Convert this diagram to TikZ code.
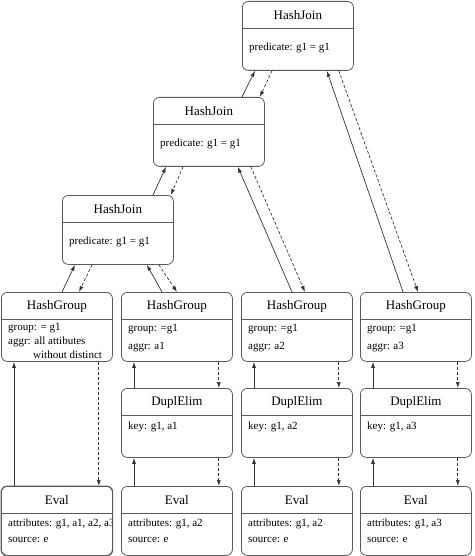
\documentclass[tikz,border=0pt]{standalone}
\usepackage{fontspec}
\setmainfont{Liberation Serif}
\usetikzlibrary{calc,arrows.meta}
\newcommand\umlbox[4]{%
  \node[box] (#1) at (#2,#3) {};
  \draw[divider] ($(#1.north west)+(0,27)$) -- ($(#1.north east)+(0,27)$);
  \node[ttl] (#1-t) at ($(#1.north)+(0,14)$) {#4};
}
\newcommand\bodytxt[4]{%
  \node[txt] (#1) at ($(#2.north west)+(7,#3)$) {#4};
}
\begin{document}
\begin{tikzpicture}[x=1pt,y=-1pt,
  box/.style={draw=black!65, line width=0.8pt, rounded corners=6pt, minimum width=111pt, minimum height=69pt, anchor=north west, inner sep=0pt, fill=white},
  divider/.style={draw=black!65, line width=0.8pt},
  ttl/.style={font=\fontsize{13}{15}\selectfont, anchor=center, inner sep=0pt},
  txt/.style={font=\fontsize{11}{13}\selectfont, anchor=west, inner sep=0pt},
  upar/.style={draw=black!80, line width=0.7pt, -{Latex[length=6pt,width=4pt]}},
  downar/.style={upar, dash pattern=on 3pt off 2pt}]
\useasboundingbox (0,0) rectangle (474,556);

% boxes
\umlbox{hjA}{242}{1}{HashJoin}
\umlbox{hjB}{153}{97}{HashJoin}
\umlbox{hjC}{62}{195}{HashJoin}
\umlbox{hg1}{1}{292}{HashGroup}
\umlbox{hg2}{121}{292}{HashGroup}
\umlbox{hg3}{241}{292}{HashGroup}
\umlbox{hg4}{360}{292}{HashGroup}
\umlbox{de2}{121}{388}{DuplElim}
\umlbox{de3}{241}{388}{DuplElim}
\umlbox{de4}{360}{388}{DuplElim}
\umlbox{ev1}{1}{486}{Eval}
\umlbox{ev2}{121}{486}{Eval}
\umlbox{ev3}{241}{486}{Eval}
\umlbox{ev4}{360}{486}{Eval}

% body texts
\bodytxt{hjA-p}{hjA}{47}{predicate: g1 = g1}
\bodytxt{hjB-p}{hjB}{47}{predicate: g1 = g1}
\bodytxt{hjC-p}{hjC}{47}{predicate: g1 = g1}

\bodytxt{hg1-g}{hg1}{36}{group: = g1}
\bodytxt{hg1-a}{hg1}{50}{aggr: all attibutes}
\node[txt] (hg1-w) at ($(hg1.north west)+(32,63)$) {without distinct};
\bodytxt{hg2-g}{hg2}{37}{group: =g1}
\bodytxt{hg2-a}{hg2}{55}{aggr: a1}
\bodytxt{hg3-g}{hg3}{37}{group: =g1}
\bodytxt{hg3-a}{hg3}{55}{aggr: a2}
\bodytxt{hg4-g}{hg4}{37}{group: =g1}
\bodytxt{hg4-a}{hg4}{55}{aggr: a3}

\bodytxt{de2-k}{de2}{39}{key: g1, a1}
\bodytxt{de3-k}{de3}{39}{key: g1, a2}
\bodytxt{de4-k}{de4}{39}{key: g1, a3}

\begin{scope}
  \clip ($(ev1.north west)+(0,0)$) rectangle ($(ev1.south east)+(-0.4,0)$);
  \bodytxt{ev1-a}{ev1}{38}{attributes: g1, a1, a2, a3}
\end{scope}
\bodytxt{ev1-s}{ev1}{54}{source: e}
\bodytxt{ev2-a}{ev2}{38}{attributes: g1, a2}
\bodytxt{ev2-s}{ev2}{54}{source: e}
\bodytxt{ev3-a}{ev3}{38}{attributes: g1, a2}
\bodytxt{ev3-s}{ev3}{54}{source: e}
\bodytxt{ev4-a}{ev4}{38}{attributes: g1, a3}
\bodytxt{ev4-s}{ev4}{54}{source: e}
\draw[divider, rounded corners=6pt] (ev1.north west) rectangle (ev1.south east);

% joins to children
\draw[upar] ($(hjB.north west)+(89,0)$) -- ($(hjA.south west)+(13,0)$);
\draw[downar] ($(hjA.south west)+(30,0)$) -- ($(hjB.north east)+(-5,0)$);
\draw[upar] ($(hg4.north west)+(43,0)$) -- ($(hjA.south east)+(-27,0)$);
\draw[downar] ($(hjA.south east)+(-15,0)$) -- ($(hg4.north west)+(58,0)$);

\draw[upar] ($(hjC.north west)+(91,0)$) -- ($(hjB.south west)+(13,0)$);
\draw[downar] ($(hjB.south west)+(30,0)$) -- ($(hjC.north east)+(-3,0)$);
\draw[upar] ($(hg3.north west)+(51,0)$) -- ($(hjB.south east)+(-27,0)$);
\draw[downar] ($(hjB.south east)+(-14,0)$) -- ($(hg3.north west)+(64,0)$);

\draw[upar] ($(hg1.north west)+(61,0)$) -- ($(hjC.south west)+(13,0)$);
\draw[downar] ($(hjC.south west)+(30,0)$) -- ($(hg1.north west)+(78,0)$);
\draw[upar] ($(hg2.north west)+(41,0)$) -- ($(hjC.south east)+(-27,0)$);
\draw[downar] ($(hjC.south east)+(-15,0)$) -- ($(hg2.north west)+(56,0)$);

% vertical links
\foreach \lo/\hi in {ev1/hg1, de2/hg2, ev2/de2, de3/hg3, ev3/de3, de4/hg4, ev4/de4}{
  \draw[upar] ($(\lo.north west)+(13,0)$) -- ($(\hi.south west)+(13,0)$);
  \draw[downar] ($(\hi.south east)+(-14,0)$) -- ($(\lo.north east)+(-14,0)$);
}
\end{tikzpicture}
\end{document}
